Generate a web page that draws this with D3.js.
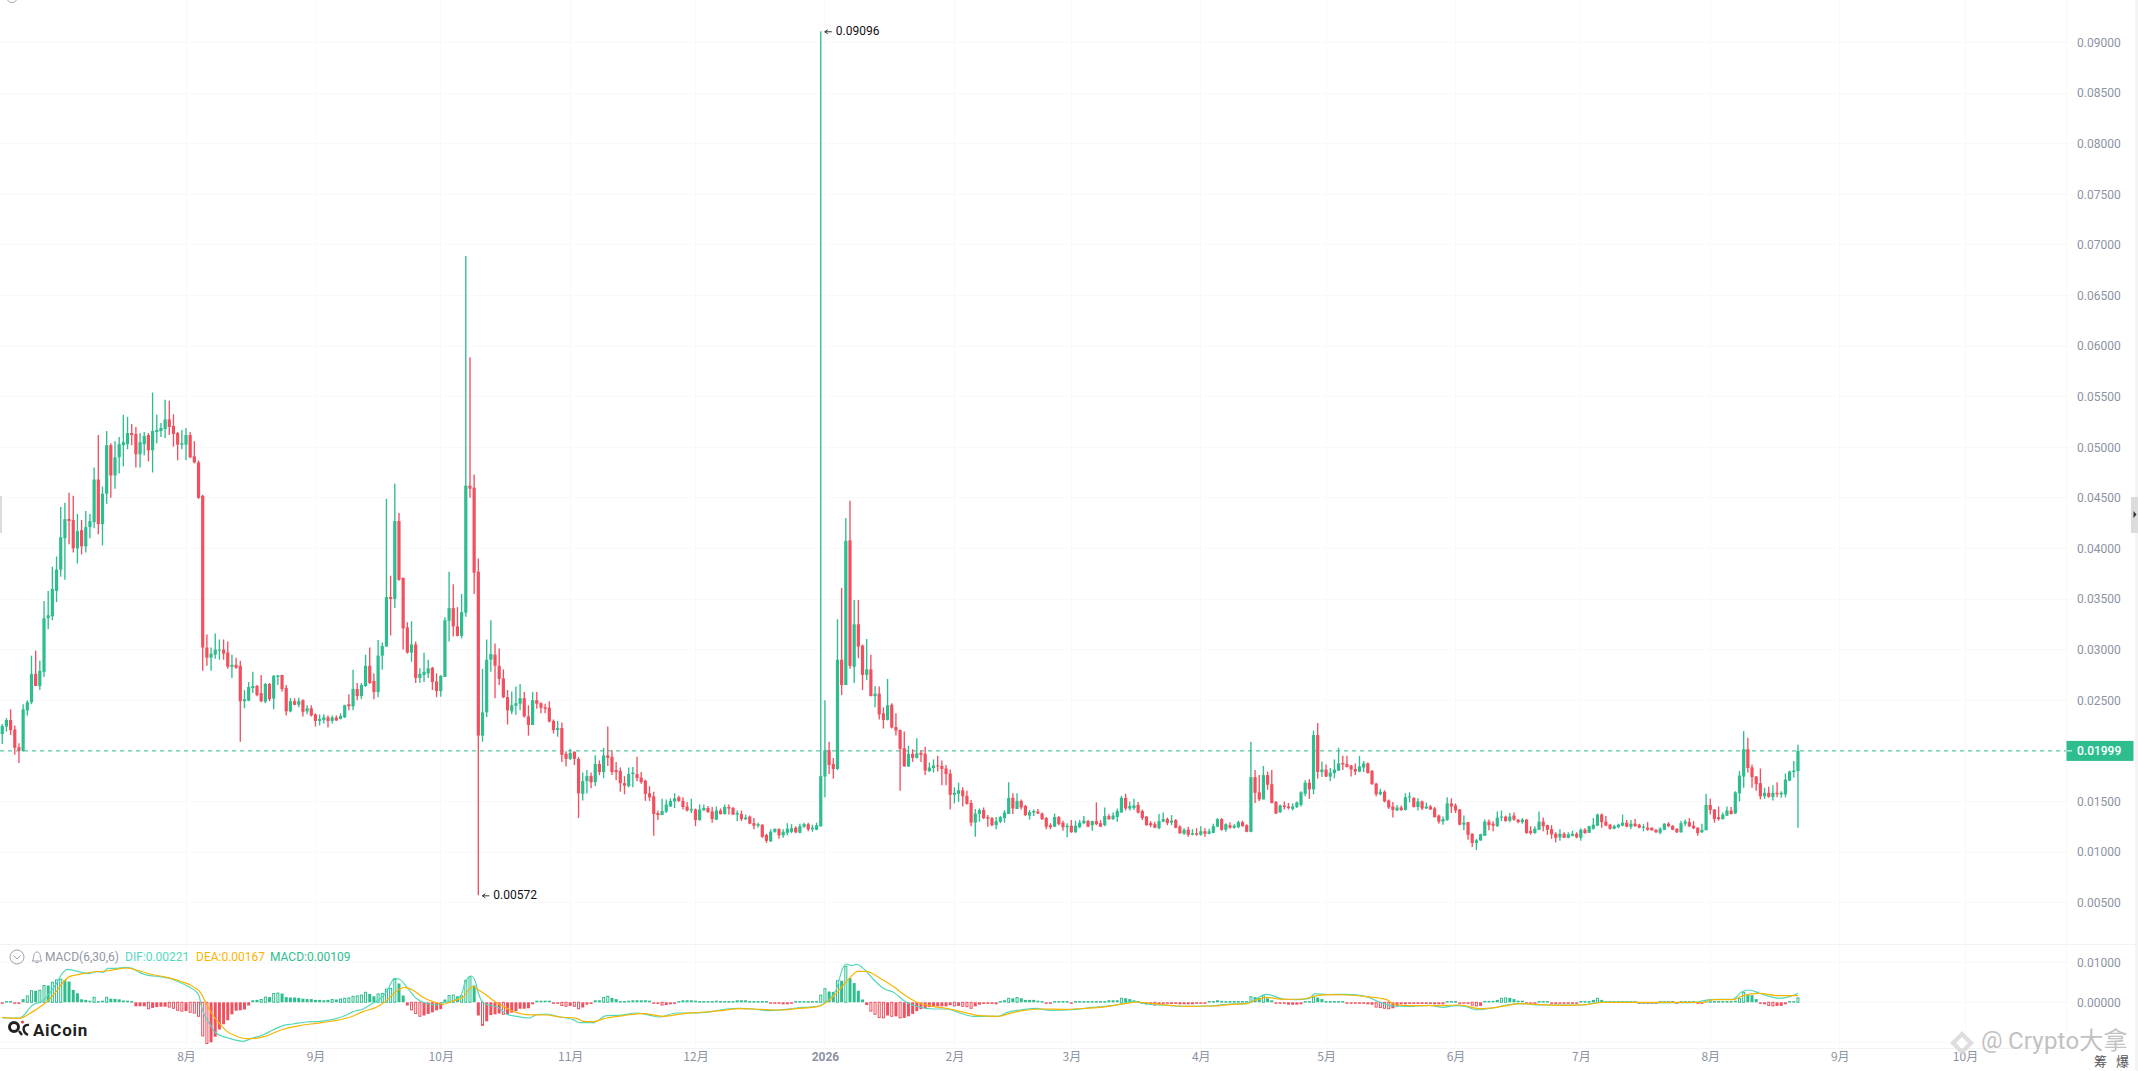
<!DOCTYPE html>
<html><head><meta charset="utf-8">
<script src="https://cdnjs.cloudflare.com/ajax/libs/d3/7.8.5/d3.min.js"></script>
<style>html,body{margin:0;padding:0;background:#fff;overflow:hidden}svg{display:block}</style>
</head><body><svg id="c" width="2138" height="1071"></svg>
<script>
// prices in thousandths
const opens=[21.66,22.4,23.04,22.1,20.35,20.0,24.0,24.8,27.6,26.4,
27.8,33.1,33.3,35.8,37.9,41.0,42.9,42.8,40.0,41.8,
40.2,42.1,42.6,46.8,42.4,45.4,50.2,47.2,49.0,50.2,
50.3,51.4,51.3,49.3,50.3,51.2,49.7,51.5,51.6,51.8,
52.75,52.1,51.4,50.25,50.25,51.2,49.1,48.5,45.2,30.2,
29.2,29.5,29.9,30.0,29.7,28.3,28.5,28.4,24.9,24.95,
26.2,26.4,25.7,24.85,26.6,25.15,27.3,27.5,26.2,23.9,
24.9,24.55,25.0,23.9,24.2,23.6,22.95,23.05,23.3,22.95,
23.3,23.15,23.3,24.6,24.4,26.1,25.4,26.4,28.4,26.9,
25.8,29.4,30.3,35.2,35.0,42.7,37.1,32.2,29.7,30.5,
27.2,27.5,27.65,28.2,26.85,25.9,27.3,32.85,34.1,32.3,
31.35,33.65,46.2,46.0,37.7,21.5,23.8,29.0,29.5,28.4,
27.15,25.3,23.9,24.45,24.65,25.2,23.4,22.55,25.0,24.7,
24.3,24.25,22.95,22.05,22.25,19.7,19.2,19.9,19.2,15.75,
17.0,17.5,16.9,18.7,17.9,19.55,19.4,18.1,18.0,16.8,
16.5,17.7,17.7,17.35,17.05,15.8,15.5,13.85,13.65,14.0,
14.5,15.0,15.4,15.05,14.5,14.1,14.2,13.15,14.1,14.35,
14.0,13.2,14.1,13.75,14.45,14.35,13.7,13.75,13.25,13.5,
12.85,12.6,12.7,11.7,11.05,12.0,12.25,11.65,11.9,12.0,
12.4,11.9,12.5,12.75,12.25,12.2,12.55,17.45,20.05,18.7,
18.2,29.0,26.5,40.8,28.3,32.5,30.4,27.5,28.05,25.4,
25.65,23.7,23.05,24.55,22.35,22.05,20.25,18.45,19.7,19.3,
19.8,19.7,18.0,18.3,18.55,18.5,18.25,17.75,15.65,15.75,
16.1,15.55,14.85,12.9,13.75,14.15,13.45,13.35,12.65,13.0,
13.35,13.75,15.35,14.25,15.05,14.55,13.6,13.9,14.0,13.8,
13.35,12.65,12.5,13.45,12.9,12.45,12.6,11.95,12.45,12.85,
13.05,12.65,13.05,12.85,12.65,13.55,13.25,13.45,13.9,15.35,
14.3,14.35,14.65,14.05,13.5,12.85,12.75,12.35,13.0,13.25,
12.9,13.15,12.5,11.8,12.2,11.7,11.85,11.7,12.05,11.8,
11.9,12.5,13.25,12.2,12.65,12.4,12.45,12.95,12.65,12.0,
17.4,15.9,15.2,17.6,16.7,14.95,13.93,14.6,14.5,14.25,
14.45,14.65,15.75,16.85,16.2,21.55,17.9,18.15,17.45,17.8,
18.05,18.8,18.7,18.55,18.2,17.95,18.35,18.75,18.0,16.75,
15.7,15.95,15.1,14.5,14.1,14.4,14.15,15.4,15.35,14.45,
15.0,14.3,14.5,14.3,13.6,13.0,13.15,14.8,14.6,14.2,
12.7,12.95,11.8,10.9,11.15,11.6,13.0,12.8,12.55,13.4,
13.5,13.1,13.6,13.2,12.95,13.2,12.1,11.87,12.2,13.0,
12.65,12.25,11.8,11.45,11.8,11.4,11.6,11.8,11.4,12.2,
11.9,12.3,12.6,13.7,13.0,12.7,12.3,12.45,12.6,12.9,
12.5,12.8,12.7,12.45,12.4,12.4,12.2,11.9,12.2,12.8,
12.6,12.3,11.95,12.8,12.95,12.6,12.4,11.95,12.15,14.65,
14.2,13.45,13.25,13.6,14.1,13.8,15.8,17.45,20.15,18.35,
17.45,16.8,15.5,15.85,15.45,15.85,15.7,15.7,17.05,17.9,18.0];
const closes=[22.45,23.04,22.05,20.3,20.0,24.1,24.8,27.6,26.4,27.9,
33.1,33.4,36.0,37.9,41.1,42.9,42.7,40.0,41.7,40.2,
42.1,42.7,46.8,42.4,45.4,50.2,47.2,49.0,50.3,50.5,
51.4,51.2,49.3,50.5,51.1,49.7,51.6,51.7,51.9,52.75,
52.0,51.3,50.25,50.4,51.2,49.0,48.5,45.0,30.2,29.2,
29.6,30.0,30.0,29.6,28.3,28.5,28.2,24.9,25.1,26.3,
26.4,25.5,24.9,26.6,25.1,27.4,27.45,26.1,23.9,24.9,
24.55,24.9,23.85,24.2,23.5,22.95,23.15,23.3,22.95,23.3,
23.0,23.45,24.5,24.4,26.1,25.4,26.5,28.4,26.7,25.8,
29.4,30.35,35.2,35.0,42.7,36.9,32.1,29.7,30.5,27.2,
27.6,27.8,28.15,26.8,25.9,27.4,32.9,34.1,32.3,31.35,
33.7,46.2,45.9,37.6,21.5,23.8,29.0,29.55,28.4,27.1,
25.3,24.0,24.5,24.7,25.2,23.4,22.55,25.0,24.65,24.25,
24.15,22.9,22.05,22.25,19.6,19.2,19.8,19.2,15.8,17.0,
17.5,16.9,18.7,17.9,19.55,19.3,17.9,17.9,16.8,16.55,
17.7,17.85,17.3,16.9,15.75,15.4,13.75,13.65,14.05,14.7,
15.05,15.3,15.05,14.45,14.1,14.25,13.15,14.2,14.35,13.95,
13.25,14.1,13.75,14.45,14.3,13.7,13.85,13.25,13.4,12.8,
12.6,12.75,11.5,11.1,12.0,12.3,11.65,12.0,12.3,12.35,
11.95,12.55,12.75,12.25,12.4,12.65,17.5,20.05,18.6,18.2,
29.0,26.5,40.75,28.4,32.5,30.3,27.5,28.05,25.4,25.65,
23.6,23.05,24.5,22.3,22.0,20.2,18.45,19.7,19.3,19.75,
19.6,18.05,18.35,18.55,18.45,18.2,17.7,15.65,15.85,16.1,
15.5,14.75,12.9,13.8,14.15,13.35,13.3,12.65,13.05,13.45,
13.9,15.35,14.3,15.05,14.4,13.65,13.95,14.05,13.8,13.25,
12.5,12.45,13.45,12.75,12.45,12.6,11.95,12.6,12.9,13.1,
12.5,13.05,12.75,12.5,13.55,13.25,13.6,14.05,15.35,14.3,
14.55,14.6,13.9,13.35,12.65,12.65,12.4,13.05,13.25,12.85,
13.1,12.4,11.85,12.2,11.7,11.85,11.7,12.05,11.8,12.05,
12.55,13.25,12.2,12.75,12.4,12.6,12.95,12.55,12.0,17.4,
15.85,15.2,17.6,16.65,14.85,13.8,14.6,14.45,14.35,14.5,
14.9,15.9,16.85,16.2,21.55,17.9,18.15,17.45,17.85,18.15,
18.75,18.65,18.4,18.15,17.95,18.45,18.75,17.8,16.7,15.7,
15.95,15.0,14.4,14.15,14.4,14.15,15.4,15.5,14.45,15.0,
14.3,14.5,14.2,13.45,13.0,13.25,14.8,14.5,14.1,12.7,
12.9,11.7,10.9,11.15,11.75,13.0,12.65,12.6,13.4,13.5,
13.05,13.5,13.2,12.95,13.2,11.87,11.87,12.3,13.0,12.55,
12.2,11.75,11.4,11.8,11.4,11.75,11.8,11.45,12.2,11.87,
12.55,12.7,13.7,12.95,12.6,12.3,12.55,12.7,12.9,12.5,
12.8,12.55,12.4,12.5,12.2,12.15,11.95,12.3,12.8,12.55,
12.2,11.95,12.85,13.0,12.55,12.35,11.87,12.2,14.65,14.15,
13.25,13.25,13.7,14.1,13.75,15.9,17.55,20.15,18.3,17.4,
16.7,15.5,15.85,15.45,15.85,15.7,15.85,17.15,17.95,18.05,19.99];
const highs=[22.65,23.24,24.1,22.5,20.75,24.6,25.0,29.4,29.9,28.9,
34.8,35.8,38.2,39.2,44.1,44.5,45.5,45.2,43.4,42.8,
43.7,43.4,48.0,51.2,46.1,51.6,50.4,50.6,51.0,53.2,
53.0,52.3,52.0,51.4,51.5,51.4,55.4,53.2,52.4,54.7,
54.6,53.25,51.5,51.7,51.9,51.5,50.6,48.7,45.3,31.5,
30.2,31.6,31.0,31.0,30.8,29.5,29.2,28.9,26.0,26.8,
27.8,26.5,27.5,26.7,26.7,27.5,27.5,27.5,26.5,25.2,
25.2,25.25,25.1,24.5,24.5,23.7,23.6,23.6,23.5,23.5,
23.5,23.7,24.55,25.6,28.0,26.7,26.7,29.5,30.2,27.65,
30.95,30.7,44.9,37.3,46.4,43.5,37.1,32.7,32.8,30.8,
28.15,29.7,29.0,28.3,27.65,27.5,33.2,37.7,36.45,34.2,
35.5,68.9,58.9,47.3,39.0,28.1,31.0,32.9,30.6,30.1,
28.05,26.0,25.85,26.35,26.6,25.8,24.5,25.8,25.8,24.8,
24.65,24.9,23.1,22.95,22.8,19.95,20.2,19.95,19.4,17.85,
18.1,17.85,19.55,19.05,20.3,22.4,20.05,18.9,18.35,17.5,
18.35,18.4,19.4,17.9,17.15,16.5,15.95,14.1,15.25,15.2,
15.3,15.8,15.55,15.4,14.95,15.25,14.3,14.7,14.7,14.55,
14.45,14.5,14.3,14.7,14.7,14.45,14.1,14.1,13.7,13.6,
13.35,12.9,12.75,11.8,12.25,12.3,12.35,12.25,12.85,12.75,
12.55,12.8,12.9,12.9,12.7,12.9,91.1,25.0,20.9,19.3,
33.0,36.1,43.0,44.7,34.9,34.9,30.5,31.05,29.5,26.4,
26.35,24.3,27.1,24.7,23.7,22.1,21.9,20.5,20.15,21.25,
20.05,20.4,18.85,19.15,19.5,19.05,18.6,18.15,16.4,16.85,
16.4,16.05,15.15,14.25,14.3,14.4,13.65,13.45,13.45,13.55,
14.15,16.9,15.8,15.8,15.2,14.65,14.15,14.2,14.25,13.9,
13.45,12.85,13.8,13.55,13.1,12.85,13.15,13.1,13.15,13.55,
13.15,13.1,14.9,13.15,14.4,13.75,13.9,14.3,15.55,15.75,
15.0,15.25,14.95,14.2,13.55,13.05,13.0,13.75,13.9,13.4,
13.65,13.25,12.65,12.35,12.5,12.25,12.35,12.55,12.35,12.3,
12.8,13.35,13.35,12.85,12.95,12.75,13.1,13.1,12.75,20.9,
18.1,17.6,18.5,17.95,18.1,15.05,14.7,15.0,14.85,14.8,
15.0,16.0,17.1,17.2,22.0,22.75,18.95,18.65,18.3,19.15,
20.3,19.5,19.5,18.6,18.75,19.5,19.0,18.85,18.1,16.85,
16.25,16.1,15.2,14.95,14.65,14.6,15.8,15.9,15.4,15.3,
15.1,14.9,14.65,14.45,13.7,13.5,15.4,15.3,14.8,14.25,
13.6,13.0,11.85,11.3,11.8,13.2,13.2,13.05,14.0,14.1,
13.6,13.85,13.9,13.25,13.35,13.25,12.55,12.55,14.0,13.4,
12.7,12.65,11.95,12.25,11.95,11.95,12.1,11.95,12.35,12.35,
12.6,13.35,13.8,13.8,13.55,12.8,12.7,12.8,13.7,13.15,
13.15,13.25,12.8,12.75,12.95,12.45,12.25,12.45,12.85,12.95,
12.65,12.35,13.1,13.2,13.35,13.05,12.45,12.8,15.75,15.25,
14.25,14.5,13.9,14.5,14.45,16.0,18.0,21.95,21.3,18.65,
17.5,18.25,16.35,16.45,16.6,16.9,16.0,17.75,18.05,19.0,20.6];
const lows=[20.67,21.9,21.56,19.6,18.8,19.9,23.5,24.6,26.4,26.0,
27.3,32.0,32.9,34.7,37.2,36.9,40.4,39.6,38.5,39.4,
39.6,41.0,42.0,41.4,40.3,44.4,45.0,45.9,47.4,48.1,
49.8,50.2,48.0,48.0,49.2,48.6,47.5,50.4,51.0,50.9,
51.2,50.05,48.7,49.8,48.7,48.9,48.4,44.9,27.9,28.4,
27.9,29.1,29.0,29.0,28.1,27.2,28.1,20.9,24.2,24.9,
25.7,25.4,24.8,24.7,24.9,24.1,26.5,25.85,23.5,23.8,
24.5,24.3,23.4,23.6,23.4,22.4,22.5,22.7,22.3,22.7,
22.95,23.1,23.25,24.0,24.0,25.0,25.1,26.3,26.6,25.1,
25.3,28.0,30.3,31.4,34.1,36.8,30.0,29.6,28.8,26.7,
26.7,26.8,27.2,26.0,25.3,25.35,27.3,30.8,31.3,31.3,
31.1,33.25,45.0,35.5,5.72,20.9,23.35,27.8,25.2,26.5,
25.2,22.6,23.6,23.55,24.0,23.3,21.5,22.55,24.15,23.7,
23.7,22.8,21.7,21.4,18.9,18.45,19.1,18.6,13.35,15.1,
15.8,16.3,16.5,17.6,17.3,18.5,17.6,17.1,15.95,15.7,
16.4,16.4,17.0,16.75,15.05,15.05,11.6,13.15,13.65,13.85,
14.45,14.35,14.95,14.2,14.0,13.85,12.55,13.1,14.1,13.85,
12.9,13.15,13.7,13.7,13.7,13.65,13.05,13.05,13.15,12.75,
12.25,12.4,11.4,10.9,11.0,11.9,11.3,11.4,11.65,11.85,
11.85,11.85,12.4,12.05,12.0,12.15,12.5,15.4,17.7,17.25,
18.1,25.5,26.5,28.1,26.7,29.15,26.0,27.0,25.4,24.3,
23.1,22.2,23.0,22.2,21.5,16.05,18.45,18.4,18.9,19.25,
18.9,17.6,17.9,17.85,17.95,16.6,16.6,14.2,14.8,14.95,
14.5,14.7,12.55,11.5,13.0,13.25,12.5,12.55,12.25,12.85,
12.9,13.75,13.75,14.25,14.2,13.55,13.2,13.55,13.75,13.15,
12.25,12.25,12.45,12.65,12.1,11.45,11.9,11.9,12.35,12.75,
12.45,12.1,12.65,12.45,12.55,13.15,13.15,13.0,13.9,14.1,
14.1,14.15,13.8,13.15,12.6,12.45,12.35,12.25,12.95,12.65,
12.65,12.35,11.8,11.7,11.5,11.65,11.6,11.6,11.5,11.75,
11.85,12.45,12.1,12.0,12.3,12.3,12.35,12.5,11.95,11.95,
14.85,15.05,15.2,16.15,14.8,13.75,13.86,14.2,14.2,14.1,
14.35,14.5,15.5,15.25,15.7,17.25,17.4,17.4,17.0,17.3,
18.0,18.1,18.35,17.45,17.6,17.9,17.9,17.75,16.65,15.5,
15.6,14.9,14.25,13.4,14.05,14.05,14.1,14.9,14.4,14.1,
14.15,14.25,14.15,13.4,12.8,12.7,13.1,13.85,13.85,12.65,
12.15,11.2,10.5,10.2,11.1,11.6,12.15,12.05,12.5,13.05,
13.0,12.95,13.1,12.85,12.8,11.8,11.7,11.8,12.15,12.05,
11.7,11.3,10.95,11.1,11.4,11.35,11.55,11.35,11.1,11.8,
11.87,12.2,12.55,12.4,12.55,12.2,12.25,12.35,12.55,12.45,
12.25,12.5,12.35,12.05,12.1,12.1,11.87,11.75,12.15,12.45,
12.15,11.87,11.9,12.55,12.45,12.25,11.6,11.87,12.15,13.7,
12.9,13.1,13.2,13.55,13.7,13.75,15.0,16.35,17.85,16.35,
16.05,15.2,15.25,15.35,15.1,15.4,15.35,15.4,17.0,17.35,12.4];
const macdHist=[-.3,.3,.3,-.3,-.4,.8,1.6,2.9,2.9,3.0,
4.2,4.2,5.0,5.6,5.8,5.6,5.2,3.1,2.25,.75,
.6,.4,1.25,.3,.4,1.25,.9,.85,.75,.45,
.4,.3,-1,-1,-1,-1.6,-1.4,-1.2,-1.1,-1.1,
-1.2,-1.5,-2,-2.2,-2.2,-2.5,-2.7,-3.5,-8.4,-10.3,
-10,-8.6,-6.8,-5.5,-4.5,-3,-2.1,-2,-1.8,-.8,
.5,.6,.7,1.3,1.3,2.2,2.3,2.2,1.3,1.2,
1.2,1.1,.9,.8,.8,.6,.6,.5,.6,.7,
.7,.8,1,1.1,1.5,1.6,1.8,2.5,2.1,1.5,
2.1,2.2,3.3,3.5,5.7,4.7,1.7,-.8,-1.9,-2.8,
-3.5,-3.3,-2.9,-2.5,-2,-1.7,.7,1.7,1.8,1.5,
1.6,5.5,6.4,4.2,-3.3,-5.75,-4.75,-3.2,-3,-2.8,
-3,-3,-2.6,-2.2,-1.6,-1.6,-1.5,-.5,.4,.4,
.4,.4,-.3,-.3,-.8,-1,-.9,-1,-1.6,-1.3,
-.6,-.4,.5,.5,1.2,1.5,1.1,.8,.3,.3,
.4,.5,.5,.5,.5,.4,-.3,-.4,-.7,-.7,
-.5,-.4,.3,.5,.5,.5,.4,.3,.3,.3,
.3,.4,.3,.3,.3,.3,.5,.5,.5,.3,
.3,.3,.3,.3,-.3,-.3,-.3,-.5,-.5,-.3,
.3,.3,.3,.3,.3,.3,1.8,3.4,2.7,2.6,
5.4,5.4,9,6,4.8,2.9,.7,-.7,-2.2,-3,
-3.8,-3.9,-3.3,-3.5,-3.5,-3.9,-3.9,-3.5,-2.9,-2.2,
-1.7,-1.5,-1.2,-1.1,-1,-1,-1,-.7,-.9,-.9,
-1,-1.1,-1.5,-1,-.6,-.4,-.4,-.4,-.5,.3,
.5,1,1,1.2,1,.6,.6,.6,.4,.3,
-.3,-.3,.3,.3,.3,.3,-.3,.3,.3,.3,
.3,.3,.3,.3,.3,.5,.5,.5,1,1,
.8,.5,.3,-.3,-.5,-.6,-.7,-.6,-.3,-.3,
-.4,-.4,-.5,-.5,-.5,-.5,-.3,-.3,-.3,.3,
.3,.5,.3,.3,.3,.3,.3,.3,.3,1.4,
1.3,1.1,1.6,1,.5,-.3,-.3,-.3,-.6,-.6,
-.6,-.5,.3,.3,1.3,1.2,.8,.3,.3,.3,
.3,.3,-.3,-.3,-.3,-.3,-.3,-.5,-.6,-1.2,
-1.3,-1.5,-1.6,-1.5,-1,-.5,-.5,-.4,-.4,-.4,
-.4,-.4,-.4,-.5,-.5,-.5,.3,.3,.3,-.3,
-.3,-.4,-.7,-.9,-.9,.35,.35,.35,.6,1,
1.1,1.1,.8,.4,.4,-.3,-.3,-.3,.3,.3,
.3,-.2,-.4,-.3,-.3,-.3,-.3,-.3,.3,.3,
.3,.6,1,.6,.3,.3,.3,.3,.3,.3,
.3,.3,-.2,-.2,-.2,-.2,-.4,.3,.3,.3,
.3,-.2,.3,.3,.3,.3,-.2,-.2,.4,.7,
.3,.3,.3,.3,.3,.4,.9,2.5,1.8,1.8,
.8,-.3,-.5,-.8,-.9,-.9,-.9,-.5,.3,.3,1.09];
// DIF: [candle number, value]
const difPoints=[[0,-3.92],[4.15,-3.92],[7.3,-.67],[9.7,.42],[11.3,2.25],[12.9,4.58],[14.1,6.83],[15.7,8.25],[17.3,7.92],[18.9,7.5],[20.9,7.25],[22.5,7.67],[24.1,7.5],[25.3,8.5],[27.3,8.5],[29.3,8.75],[30.9,8.58],[32.9,7.42],[35.3,6.67],[37.7,6.42],[40.1,6],[42.5,5],[44.9,3.75],[46.4,2.67],[47.2,1.42],[47.6,-.67],[48.4,-3.17],[49.6,-5.25],[50.8,-7.33],[52,-8.17],[54.4,-9],[57.6,-9.75],[60,-8.92],[62.4,-8.17],[64.8,-6.92],[67.2,-5.83],[69.6,-5.42],[72.8,-4.92],[76,-4.75],[79.2,-4.25],[82.4,-3.17],[84,-2.33],[86.4,-1.67],[88.7,-.25],[90.7,1],[92.3,3.08],[93.9,6],[95.1,5.75],[97.1,3.5],[99.1,1],[101.5,-.25],[103.9,-.67],[105.5,-.08],[107.9,.33],[109.9,1.83],[110.9,5.17],[112.3,6.58],[113.3,5.17],[114,2.33],[115.2,-.17],[116.7,-.75],[118.7,-1.25],[120.7,-2.92],[123.1,-3.5],[126.3,-3.92],[127.9,-3.08],[130.3,-2.92],[133.5,-3.67],[136.7,-4.33],[138.3,-5.08],[141.5,-5.08],[144.7,-3.33],[147.9,-3.25],[151.9,-2.67],[155.1,-3.25],[157.4,-3.67],[161.4,-2.67],[165.4,-2.67],[170.2,-2.25],[173.4,-1.67],[176.6,-1.5],[179.8,-1.67],[183,-2.08],[187,-1.83],[190.2,-1.42],[195.4,-1],[197.4,.25],[199.7,3.17],[201.3,8.58],[202.1,9.58],[203.3,9.17],[204.5,9.5],[206.5,8.17],[208.5,5.83],[211.3,3.33],[213.3,2.58],[216.5,0],[218.9,-1],[222.9,-1.67],[226.1,-1.67],[229.3,-2.67],[232.5,-3.5],[238.5,-3.5],[240.5,-2.58],[243.6,-1.92],[247.6,-1.5],[250.8,-2],[257.2,-1.75],[261.2,-1.25],[266.8,-.67],[270.8,.17],[274,-.42],[277.2,-.67],[282,-1],[289.1,-.92],[293.1,-.5],[297.9,-.33],[302.7,2],[306.7,.83],[309.9,.67],[313.1,1],[314.3,2.17],[317.5,1.92],[321.9,2],[326.7,1.42],[329.9,0],[333.1,-.92],[336.2,-1],[341.8,-.75],[345,-1.25],[348.2,-.83],[350.6,-1.08],[353,-1.92],[357,-1.42],[360.2,-.67],[364.2,-.33],[368.2,-.67],[373,-.67],[378.5,-.67],[382.5,.08],[388.9,.08],[392.9,-.17],[404.9,-.08],[408.9,.67],[414.4,.75],[416.4,2.5],[418.4,3.08],[420.8,2.25],[425.6,1],[428,1.42],[430,2.21]];
// DEA: [candle number, value]
const deaPoints=[[0,-3.75],[4.1,-4],[7.3,-2.33],[9.7,-.67],[11.3,.75],[12.9,2.67],[14.5,4.92],[16.1,6.42],[18.5,7],[21.7,7.58],[24.9,7.83],[27.3,8.25],[29.7,8.58],[32.1,8.08],[35.3,7.08],[39.3,6.25],[42.5,5.33],[45.7,3.92],[47.6,2.25],[48.8,-.25],[50.4,-3.17],[52,-5.25],[53.6,-7.08],[56,-8.42],[58.4,-9.08],[60.8,-9],[63.2,-8.42],[67.2,-6.75],[71.2,-5.83],[75.2,-5.25],[79.2,-4.67],[83.2,-3.75],[86.4,-2.33],[89.6,-1.25],[92,.42],[94.3,2.67],[96.3,3.75],[98.3,3.08],[100.7,1.25],[103.1,.17],[105.5,-.5],[107.9,.33],[110.3,1.25],[112.7,3.92],[114.3,2.9],[115.2,2.33],[117.5,.5],[119.9,-1],[122.3,-2.25],[125.5,-3.08],[130.3,-3.17],[133.5,-3.67],[137.5,-4],[139.1,-4.75],[141.5,-4.83],[144.7,-3.92],[148.7,-3.33],[153.5,-2.83],[158.2,-3.5],[163,-2.83],[168.6,-2.42],[172.6,-2],[176.6,-1.58],[181.4,-1.75],[186.2,-1.92],[190.2,-1.58],[195.4,-1],[198.2,.67],[200.5,3.17],[202.9,6.08],[204.9,7.75],[206.9,7.75],[210.1,6.08],[213.3,4],[216.5,1.5],[218.9,.08],[222.9,-1],[226.9,-1.67],[229.3,-2.25],[234.1,-3.33],[238.5,-3.5],[241.3,-2.75],[244.4,-2.08],[248.4,-1.67],[254.8,-1.75],[259.6,-1.5],[264.4,-1.08],[269.2,-.25],[271.6,.08],[275.6,-.33],[280.4,-.83],[283.6,-1],[289.9,-.92],[294.7,-.5],[297.9,-.33],[300.3,.58],[302.7,1.25],[306.7,.75],[311.5,.83],[314.7,1.67],[317.9,1.92],[321.9,1.83],[326.7,1.42],[331.5,.67],[333.1,-.42],[336.2,-.83],[342.6,-.83],[349,-.67],[353.8,-1.58],[357.8,-1.25],[360.2,-.83],[363.4,-.33],[368.2,-.58],[374.6,-.75],[379.4,-.58],[383.3,0],[388.9,0],[407.3,0],[409.7,.67],[414.4,.67],[416.8,1.67],[420.8,2.25],[424.8,1.67],[430,1.67]];
const priceTicks=d3.range(5,95,5);
const macdTicks=[0,10];
const macdGrid=[-10,0,10];
const monthTicks=["2025-08-01","2025-09-01","2025-10-01","2025-11-01","2025-12-01","2026-01-01","2026-02-01","2026-03-01","2026-04-01","2026-05-01","2026-06-01","2026-07-01","2026-08-01","2026-09-01","2026-10-01"];
const monthLabels=["8月","9月","10月","11月","12月","2026","2月","3月","4月","5月","6月","7月","8月","9月","10月"];
const firstDay=Date.UTC(2025,5,18), dayMs=864e5;
const lastPrice=19.99;
const legend=[["MACD(6,30,6)",45,"#8e96a4"],["DIF:0.00221",125,"#52d8bd"],["DEA:0.00167",196,"#f8b500"],["MACD:0.00109",270,"#2ebd8f"]];

const GREEN="#2ebd8f",RED="#f2505f",GRID="#f9f9fa",AXIS="#8b93a3";
const svg=d3.select("#c");
const dateOf=i=>new Date(firstDay+i*dayMs);
const monthDates=monthTicks.map(d=>new Date(d+"T00:00:00Z"));
const x=d3.scaleUtc().domain([new Date("2025-08-01T00:00:00Z"),new Date("2026-10-01T00:00:00Z")]).range([186,1965]);
const y=d3.scaleLinear().domain([0,90]).range([953.2,42.4]);
const ym=d3.scaleLinear().domain([-10,10]).range([1042.3,962.3]);
const fmt=d=>(d/1000).toFixed(5);
const R=2066.5;

// gridlines
const grid=svg.append("g").attr("stroke",GRID).attr("stroke-width",1).attr("shape-rendering","crispEdges");
grid.selectAll(".h").data(priceTicks).join("line").attr("x1",0).attr("x2",2072).attr("y1",d=>y(d)).attr("y2",d=>y(d));
grid.selectAll(".m").data(macdGrid).join("line").attr("class","m").attr("x1",0).attr("x2",2072).attr("y1",d=>ym(d)).attr("y2",d=>ym(d));
grid.selectAll(".v").data(monthDates).join("line").attr("class","v").attr("x1",d=>x(d)).attr("x2",d=>x(d)).attr("y1",0).attr("y2",1048);
grid.append("line").attr("x1",R).attr("x2",R).attr("y1",0).attr("y2",1048);
grid.append("line").attr("x1",0).attr("x2",2138).attr("y1",944).attr("y2",944).attr("stroke","#f3f3f4");
grid.append("line").attr("x1",0).attr("x2",2066).attr("y1",1048).attr("y2",1048).attr("stroke","#f3f3f4");

// axes
const axY=d3.axisRight(y).tickValues(priceTicks).tickFormat(fmt).tickSize(0).tickPadding(0);
const gy=svg.append("g").attr("transform",`translate(2077,0)`).call(axY);
const axM=d3.axisRight(ym).tickValues(macdTicks).tickFormat(fmt).tickSize(0).tickPadding(0);
const gm=svg.append("g").attr("transform",`translate(2077,0)`).call(axM);
const axX=d3.axisBottom(x).tickValues(monthDates).tickFormat((d,i)=>monthLabels[i]).tickSize(0).tickPadding(0);
const gx=svg.append("g").attr("transform","translate(0,1052)").call(axX);
[gy,gm,gx].forEach(g=>{g.select(".domain").remove();g.selectAll("text").attr("fill",AXIS).attr("font-family","Roboto,'Noto Sans CJK SC',sans-serif").attr("font-size",12);});
gx.selectAll("text").attr("font-family","'Noto Sans CJK SC',Roboto,sans-serif").filter((d,i)=>monthLabels[i]==="2026").attr("font-weight",700).attr("font-family","Roboto,sans-serif");

// current price
const py=y(lastPrice);
svg.append("line").attr("x1",0).attr("x2",R).attr("y1",py).attr("y2",py).attr("stroke",GREEN).attr("stroke-width",1).attr("stroke-dasharray","4,4");
svg.append("rect").attr("x",R).attr("y",py-10).attr("width",67).attr("height",20).attr("fill",GREEN);
svg.append("line").attr("x1",R).attr("x2",2072).attr("y1",py).attr("y2",py).attr("stroke","#fff");
svg.append("text").attr("x",2077).attr("y",py).attr("dy","0.34em").attr("fill","#fff").attr("font-family","Roboto,sans-serif").attr("font-weight",500).attr("font-size",12).text(fmt(lastPrice));

// candles
const idx=d3.range(opens.length);
const colr=i=>closes[i]>=opens[i]?GREEN:RED;
const bw=3.2;
const candles=svg.append("g");
candles.selectAll(".w").data(idx).join("line").attr("class","w").attr("x1",i=>x(dateOf(i))).attr("x2",i=>x(dateOf(i))).attr("y1",i=>y(highs[i])).attr("y2",i=>y(lows[i])).attr("stroke",colr).attr("stroke-width",1.35);
candles.selectAll(".b").data(idx).join("rect").attr("class","b").attr("x",i=>x(dateOf(i))-bw/2).attr("width",bw)
 .attr("y",i=>y(Math.max(opens[i],closes[i]))).attr("height",i=>Math.max(1,Math.abs(y(opens[i])-y(closes[i])))).attr("fill",colr);

// extremes
const note=(i,v,lab)=>{
  const cx=x(dateOf(i)),cy=y(v);
  svg.append("path").attr("d",`M${cx+4} ${cy+0.5} L${cx+11} ${cy+0.5} M${cx+4} ${cy+0.5} L${cx+7} ${cy-1.5} M${cx+4} ${cy+0.5} L${cx+7} ${cy+2.5}`).attr("fill","none").attr("stroke","#333").attr("stroke-width",1);
  svg.append("text").attr("x",cx+15).attr("y",cy).attr("dy","0.34em").attr("fill","#111").attr("font-family","Roboto,sans-serif").attr("font-size",12).text(lab);
};
note(196,highs[196],"0.09096");
note(114,lows[114],"0.00572");

// MACD hist
const hist=svg.append("g");
const isHollow=i=>i>0&&Math.sign(macdHist[i])===Math.sign(macdHist[i-1])&&Math.abs(macdHist[i])>Math.abs(macdHist[i-1])&&Math.abs(macdHist[i])>0.6;
hist.selectAll("rect").data(idx).join("rect")
 .attr("x",i=>x(dateOf(i))-1.5+(isHollow(i)?0.5:0)).attr("width",i=>isHollow(i)?2:3)
 .attr("y",i=>macdHist[i]>=0?ym(macdHist[i]):ym(0)).attr("height",i=>Math.max(1.5,Math.abs(ym(macdHist[i])-ym(0))))
 .attr("fill",i=>isHollow(i)?"#fff":(macdHist[i]>=0?GREEN:RED))
 .attr("fill-opacity",i=>isHollow(i)?0.55:1)
 .attr("stroke",i=>isHollow(i)?(macdHist[i]>=0?GREEN:RED):"none").attr("stroke-width",1);
const line=d3.line().x(d=>x(dateOf(d[0]))).y(d=>ym(d[1])).curve(d3.curveMonotoneX);
svg.append("path").attr("d",line(difPoints)).attr("fill","none").attr("stroke","#52d8bd").attr("stroke-width",1.2);
svg.append("path").attr("d",line(deaPoints)).attr("fill","none").attr("stroke","#f8b500").attr("stroke-width",1.2);

// legend
const lg=svg.append("g").attr("font-family","Roboto,sans-serif").attr("font-size",12);
lg.selectAll("text").data(legend).join("text").attr("x",d=>d[1]).attr("y",957).attr("dy","0.34em").attr("fill",d=>d[2]).text(d=>d[0]);
lg.append("circle").attr("cx",17).attr("cy",957).attr("r",7).attr("fill","none").attr("stroke","#9aa1ad");
lg.append("path").attr("d","M13.5 955.5 L17 959 L20.5 955.5").attr("fill","none").attr("stroke","#9aa1ad");
lg.append("path").attr("d","M32 961 C34 959 33.5 956 34 954.5 C34.5 952.5 36 952 37 952 C38 952 39.5 952.5 40 954.5 C40.5 956 40 959 42 961 Z M35.5 962.5 H38.5").attr("fill","none").attr("stroke","#9aa1ad");

// logo and side furniture
const logo=svg.append("g");
logo.append("circle").attr("cx",14).attr("cy",1027).attr("r",4.5).attr("fill","none").attr("stroke","#222").attr("stroke-width",3);
logo.append("path").attr("d","M19 1031 L22 1035 M29 1025 C22 1024 22 1032 28 1035").attr("fill","none").attr("stroke","#222").attr("stroke-width",2.4);
logo.append("circle").attr("cx",22.5).attr("cy",1022).attr("r",1.6).attr("fill","#e8485a");
logo.append("text").attr("x",33).attr("y",1036).attr("font-family","Roboto,sans-serif").attr("font-weight",700).attr("font-size",17).attr("letter-spacing","0.7").attr("fill","#222").text("AiCoin");
svg.append("circle").attr("cx",12).attr("cy",-3).attr("r",5.5).attr("fill","none").attr("stroke","#aaa");
svg.append("rect").attr("x",0).attr("y",496).attr("width",2).attr("height",37).attr("fill","#dcdcdc");
svg.append("rect").attr("x",2135).attr("y",0).attr("width",3).attr("height",1071).attr("fill","#f4f4f4");
svg.append("rect").attr("x",2131).attr("y",497).attr("width",7).attr("height",36).attr("fill","#dcdcdc");
svg.append("path").attr("d","M2133.5 511 L2136.5 514.5 L2133.5 518 Z").attr("fill","#333");

// watermark
const wm=svg.append("g").attr("fill","#c2c2c2");
wm.append("path").attr("d","M1962 1031 L1974 1043 L1962 1055 L1950 1043 Z M1962 1037 L1968 1043 L1962 1049 L1956 1043 Z").attr("fill","#d6d6d6").attr("fill-rule","evenodd").attr("opacity",0.8);
wm.append("text").attr("x",1981).attr("y",1048).attr("font-family","Roboto,sans-serif").attr("font-size",24).text("@");
wm.append("text").attr("x",2008).attr("y",1049).attr("font-family","Roboto,'Noto Sans CJK SC',sans-serif").attr("font-size",24).attr("letter-spacing","0.2").text("Crypto大拿");
svg.append("text").attr("x",2094).attr("y",1066).attr("font-family","'Noto Sans CJK SC',sans-serif").attr("font-size",13).attr("fill","#555").text("筹");
svg.append("text").attr("x",2116).attr("y",1066).attr("font-family","'Noto Sans CJK SC',sans-serif").attr("font-size",13).attr("fill","#555").text("爆");
</script></body></html>
